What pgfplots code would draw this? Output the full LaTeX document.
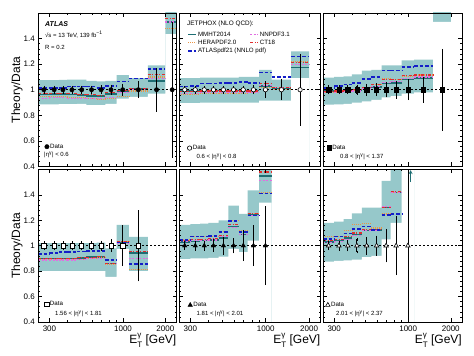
\documentclass[border=0pt]{standalone}
\usepackage{pgfplots}
\pgfplotsset{compat=1.18}
\usepackage{pgfplotstable}
\usepackage{fontspec}
\setmainfont{Liberation Sans}

\definecolor{bandc}{RGB}{150,200,202}
\definecolor{mmhtc}{RGB}{30,110,115}
\definecolor{herac}{RGB}{235,150,70}
\definecolor{nnpdfc}{RGB}{225,110,225}
\definecolor{ct18c}{RGB}{225,45,45}
\definecolor{atlasc}{RGB}{20,30,200}

\pgfplotsset{
  every axis/.append style={xmode=log, xmin=250, xmax=2400, ymin=0.4, ymax=1.6,
    scale only axis, anchor=south west, tick align=inside, axis on top,
    xtick={300,1000,2000}, xticklabels={300,1000,2000},
    minor xtick={400,500,600,700,800,900},
    ytick={0.4,0.6,0.8,1,1.2,1.4}, minor y tick num=4,
    major tick length=4pt, minor tick length=2pt,
    tick label style={font=\fontsize{8}{8}\selectfont},
    /pgf/number format/assume math mode=true,
    axis line style={line width=0.6pt},
    every tick/.style={black, line width=0.5pt},
    legend style={draw=none, fill=none, inner sep=0pt, anchor=west,
      font=\fontsize{6.2}{7}\selectfont, nodes={inner sep=1pt}},
  },
  lnMMHT/.style={mmhtc, line width=1.6pt, solid},
  lnHERA/.style={herac, line width=1.1pt, dash pattern=on 0.8pt off 1.2pt},
  lnNNPDF/.style={nnpdfc, line width=1.1pt, dash pattern=on 2pt off 1.5pt},
  lnCT/.style={ct18c, line width=1.1pt, dash pattern=on 3pt off 1.5pt on 1pt off 1.5pt},
  lnATLAS/.style={atlasc, line width=1.6pt, dash pattern=on 3.5pt off 2pt},
  mkA/.style={mark=*, mark size=2.2pt, mark options={solid, fill=black, draw=black}},
  mkB/.style={mark=*, mark size=2.2pt, mark options={solid, fill=white, draw=black, line width=0.6pt}},
  mkC/.style={mark=square*, mark size=2.1pt, mark options={solid, fill=black, draw=black}},
  mkD/.style={mark=square*, mark size=2.1pt, mark options={solid, fill=white, draw=black, line width=0.6pt}},
  mkE/.style={mark=triangle*, mark size=2.6pt, mark options={solid, fill=black, draw=black}},
  mkF/.style={mark=triangle*, mark size=2.6pt, mark options={solid, fill=white, draw=black, line width=0.6pt}},
}

\newcommand\drawpanel[3]{%
  \addplot[fill=bandc, draw=none, const plot mark left, forget plot] table[x=x,y=bhi]{#1} \closedcycle;
  \addplot[fill=white, draw=none, const plot mark left, forget plot] table[x=x,y=blo]{#1} \closedcycle;
  \addplot[lnMMHT, jump mark left, forget plot] table[x=x,y=mmht]{#1};
  \addplot[lnHERA, jump mark left, forget plot] table[x=x,y=hera]{#1};
  \addplot[lnNNPDF, jump mark left, forget plot] table[x=x,y=nnpdf]{#1};
  \addplot[lnCT, jump mark left, forget plot] table[x=x,y=ct18]{#1};
  \addplot[lnATLAS, jump mark left, forget plot] table[x=x,y=atlas]{#1};
  \addplot[black, line width=0.5pt, dash pattern=on 2pt off 2pt, forget plot] coordinates {(250,1) (2400,1)};
  \addplot[only marks, black, #3, forget plot,
    error bars/.cd, y dir=both, y explicit,
    error bar style={black, line width=0.7pt, solid},
    error mark options={black, line width=0.6pt, mark size=1.3pt}]
    table[x=x,y=y,y error=e]{#2};
  \addlegendimage{only marks, black, #3}\addlegendentry{Data}
}

% ---------- panel 1: |eta|<0.6
\pgfplotstableread{
x blo bhi mmht hera nnpdf ct18 atlas
250 0.885 1.075 0.963 0.945 0.935 0.968 1.012
300 0.885 1.075 0.965 0.945 0.937 0.970 1.012
350 0.888 1.078 0.965 0.945 0.937 0.970 1.015
400 0.888 1.080 0.962 0.940 0.935 0.968 1.025
470 0.890 1.080 0.958 0.938 0.933 0.965 1.025
550 0.880 1.070 0.950 0.930 0.930 0.960 1.025
650 0.880 1.065 0.950 0.925 0.930 0.955 1.015
750 0.890 1.070 0.965 0.935 0.940 0.975 1.030
900 0.930 1.115 0.990 0.945 0.975 0.995 1.065
1100 0.945 1.090 1.005 0.990 1.000 1.010 1.088
1500 0.970 1.190 1.070 1.100 1.090 1.120 1.160
2000 1.435 1.750 1.530 1.480 1.530 1.560 1.620
2500 1.435 1.750 1.530 1.480 1.530 1.560 1.620
}\thA
\pgfplotstableread{
x y e
273.9 1 0.02
324.0 1 0.02
374.2 1 0.02
433.6 1 0.02
508.4 1 0.02
597.7 1 0.022
698.2 1 0.025
821.6 1 0.028
995.0 1 0.035
1284.5 1 0.055
1732.1 1 0.16
2236.1 1 0.52
}\dA
% ---------- panel 2: 0.6<|eta|<0.8
\pgfplotstableread{
x blo bhi mmht hera nnpdf ct18 atlas
250 0.895 1.090 0.990 0.965 0.970 0.985 1.025
300 0.895 1.090 0.990 0.965 0.970 0.985 1.027
350 0.900 1.095 0.995 0.970 0.975 0.990 1.050
400 0.900 1.095 0.995 0.970 0.975 0.990 1.050
470 0.900 1.095 0.995 0.970 0.975 0.990 1.052
550 0.900 1.095 0.995 0.970 0.975 0.990 1.052
650 0.900 1.100 0.995 0.970 0.975 0.990 1.060
750 0.900 1.100 0.995 0.975 0.980 0.990 1.055
900 0.915 1.155 1.030 1.020 1.030 1.048 1.135
1100 0.915 1.080 1.010 1.000 1.015 1.015 1.100
1500 1.090 1.300 1.175 1.220 1.195 1.210 1.260
2000 1.090 1.300 1.175 1.220 1.195 1.210 1.260
}\thB
\pgfplotstableread{
x y e
273.9 1 0.02
324.0 1 0.02
374.2 1 0.02
433.6 1 0.02
508.4 1 0.02
597.7 1 0.02
698.2 1 0.022
821.6 1 0.025
995.0 1 0.055
1284.5 1 0.07
1732.1 1 0.27
}\dB
% ---------- panel 3: 0.8<|eta|<1.37
\pgfplotstableread{
x blo bhi mmht hera nnpdf ct18 atlas
250 0.883 1.095 0.990 0.975 0.975 0.985 1.015
300 0.885 1.100 0.990 0.980 0.978 0.990 1.027
350 0.890 1.105 0.995 0.985 0.985 0.995 1.040
400 0.900 1.120 1.000 0.995 0.990 1.000 1.055
470 0.910 1.150 1.010 1.020 1.010 1.020 1.085
550 0.920 1.155 1.020 1.040 1.025 1.040 1.100
650 0.940 1.190 1.050 1.085 1.060 1.080 1.150
750 0.950 1.190 1.055 1.080 1.065 1.080 1.150
900 0.970 1.230 1.080 1.105 1.090 1.110 1.180
1100 0.980 1.235 1.090 1.115 1.100 1.115 1.185
1500 1.530 1.800 1.650 1.650 1.650 1.650 1.700
2000 1.530 1.800 1.650 1.650 1.650 1.650 1.700
}\thC
\pgfplotstableread{
x y e
273.9 1 0.025
324.0 1 0.025
374.2 1 0.025
433.6 1 0.03
508.4 1 0.035
597.7 1 0.04
698.2 1 0.05
821.6 1 0.06
995.0 1 0.07
1284.5 1 0.09
1732.1 1 0.31
}\dC
% ---------- panel 4: 1.56<|eta|<1.81
\pgfplotstableread{
x blo bhi mmht hera nnpdf ct18 atlas
250 0.800 1.020 0.900 0.895 0.888 0.900 0.935
300 0.800 1.020 0.900 0.895 0.888 0.900 0.945
350 0.800 1.020 0.900 0.893 0.888 0.900 0.950
400 0.800 1.020 0.900 0.893 0.888 0.900 0.952
470 0.800 1.020 0.905 0.895 0.890 0.905 0.955
550 0.800 1.020 0.910 0.900 0.900 0.910 0.960
650 0.800 1.025 0.910 0.905 0.900 0.912 0.960
750 0.755 0.980 0.860 0.855 0.860 0.860 0.890
900 0.975 1.165 1.025 1.030 1.020 1.030 1.025
1100 0.800 1.070 0.945 0.815 0.900 0.955 0.855
1500 0.800 1.070 0.945 0.815 0.900 0.955 0.855
}\thD
\pgfplotstableread{
x y e
273.9 1 0.025
324.0 1 0.025
374.2 1 0.025
433.6 1 0.025
508.4 1 0.025
597.7 1 0.025
698.2 1 0.03
821.6 1 0.04
995.0 1 0.15
1284.5 1 0.27
}\dD
% ---------- panel 5: 1.81<|eta|<2.01
\pgfplotstableread{
x blo bhi mmht hera nnpdf ct18 atlas
250 0.895 1.165 1.030 1.045 1.030 1.040 1.047
300 0.900 1.170 1.035 1.070 1.040 1.050 1.074
350 0.900 1.175 1.040 1.070 1.040 1.050 1.074
400 0.905 1.180 1.045 1.075 1.045 1.055 1.078
470 0.915 1.200 1.060 1.110 1.075 1.080 1.110
550 0.975 1.315 1.150 1.200 1.145 1.170 1.197
650 0.950 1.250 1.090 1.120 1.090 1.110 1.110
750 1.040 1.435 1.245 1.255 1.235 1.255 1.237
900 1.340 1.750 1.550 1.420 1.510 1.580 1.410
1100 1.340 1.750 1.550 1.420 1.510 1.580 1.410
}\thE
\pgfplotstableread{
x y e
273.9 1 0.025
324.0 1 0.03
374.2 1 0.03
433.6 1 0.04
508.4 1 0.06
597.7 1 0.05
698.2 1 0.11
821.6 1 0.15
995.0 1 0.30
}\dE
% ---------- panel 6: 2.01<|eta|<2.37
\pgfplotstableread{
x blo bhi mmht hera nnpdf ct18 atlas
250 0.876 1.180 1.030 1.070 1.026 1.040 1.053
300 0.880 1.190 1.040 1.075 1.030 1.050 1.074
350 0.885 1.210 1.060 1.120 1.050 1.070 1.097
400 0.890 1.255 1.090 1.170 1.080 1.100 1.130
470 0.910 1.300 1.120 1.175 1.120 1.130 1.150
550 0.920 1.300 1.125 1.140 1.120 1.130 1.124
650 1.050 1.510 1.300 1.250 1.310 1.300 1.240
750 1.180 1.750 1.420 1.420 1.420 1.430 1.250
900 1.900 2.400 2.100 2.100 2.100 2.100 2.100
1100 1.900 2.400 2.100 2.100 2.100 2.100 2.100
}\thF
\pgfplotstableread{
x y e
273.9 1 0.025
324.0 1 0.03
374.2 1 0.035
433.6 1 0.05
508.4 1 0.06
597.7 1 0.07
698.2 1 0.12
821.6 1 0.22
995.0 1 0.65
}\dF

\begin{document}
\begin{tikzpicture}
\useasboundingbox (0pt,0pt) rectangle (474pt,356pt);

% top row
\begin{axis}[at={(38.3pt,189.5pt)}, width=138.2pt, height=153.5pt,
  xticklabels={}, legend style={at={(0.045,0.129)}},
  legend image code/.code={\draw[#1] plot coordinates {(2.2pt,0pt)};}]
\drawpanel{\thA}{\dA}{mkA}
\end{axis}
\begin{axis}[at={(179pt,189.5pt)}, width=141.5pt, height=153.5pt,
  xticklabels={}, yticklabels={}, legend style={at={(0.058,0.12)}},
  legend image code/.code={\draw[#1] plot coordinates {(2.2pt,0pt)};}]
\drawpanel{\thB}{\dB}{mkB}
\end{axis}
\begin{axis}[at={(323pt,189.5pt)}, width=139pt, height=153.5pt,
  xticklabels={}, yticklabels={}, legend style={at={(0.028,0.122)}},
  legend image code/.code={\draw[#1] plot coordinates {(2.2pt,0pt)};}]
\drawpanel{\thC}{\dC}{mkC}
\end{axis}
% bottom row
\begin{axis}[at={(38.3pt,34pt)}, width=138.2pt, height=152.5pt,
  legend style={at={(0.045,0.116)}},
  legend image code/.code={\draw[#1] plot coordinates {(2.2pt,0pt)};}]
\drawpanel{\thD}{\dD}{mkD}
\end{axis}
\begin{axis}[at={(179pt,34pt)}, width=141.5pt, height=152.5pt,
  yticklabels={}, legend style={at={(0.062,0.111)}},
  legend image code/.code={\draw[#1] plot coordinates {(2.2pt,0pt)};}]
\drawpanel{\thE}{\dE}{mkE}
\end{axis}
\begin{axis}[at={(323pt,34pt)}, width=139pt, height=152.5pt,
  yticklabels={}, legend style={at={(0.017,0.111)}},
  legend image code/.code={\draw[#1] plot coordinates {(2.2pt,0pt)};}]
\drawpanel{\thF}{\dF}{mkF}
\addplot[mmhtc, line width=0.8pt, -stealth, forget plot] coordinates {(1040,1.50) (1040,1.595)};
\end{axis}

% JETPHOX legend overlay on panel 2
\begin{axis}[at={(179pt,189.5pt)}, width=141.5pt, height=153.5pt,
  hide axis, legend columns=2, legend cell align=left,
  legend style={at={(0.057,0.805)}, anchor=west, nodes={inner sep=1.2pt},
    /tikz/every even column/.append style={column sep=12pt}},
  legend image code/.code={\draw[#1] (0pt,0pt) -- (8pt,0pt);}]
\addlegendimage{lnMMHT}\addlegendentry{MMHT2014}
\addlegendimage{lnNNPDF}\addlegendentry{NNPDF3.1}
\addlegendimage{lnHERA}\addlegendentry{HERAPDF2.0}
\addlegendimage{lnCT}\addlegendentry{CT18}
\addlegendimage{lnATLAS}\addlegendentry{\makebox[0pt][l]{ATLASpdf21 (NNLO pdf)}}
\end{axis}

% texts
\node[anchor=west, inner sep=0pt, font=\fontsize{7}{7}\selectfont\bfseries\itshape] at (45pt,332pt) {ATLAS};
\node[anchor=west, inner sep=0pt, font=\fontsize{6}{6}\selectfont] at (45pt,321.5pt) {√s = 13 TeV, 139 fb\textsuperscript{−1}};
\node[anchor=west, inner sep=0pt, font=\fontsize{6}{6}\selectfont] at (45pt,308.5pt) {R = 0.2};
\node[anchor=west, inner sep=0pt, font=\fontsize{6.4}{6.4}\selectfont] at (187pt,331.7pt) {JETPHOX (NLO QCD):};

\node[anchor=west, inner sep=0pt, font=\fontsize{6}{6}\selectfont] at (44pt,201pt) {|η\textsuperscript{γ}| < 0.6};
\node[anchor=west, inner sep=0pt, font=\fontsize{6}{6}\selectfont] at (196.5pt,199pt) {0.6 < |η\textsuperscript{γ}| < 0.8};
\node[anchor=west, inner sep=0pt, font=\fontsize{6}{6}\selectfont] at (340pt,199.3pt) {0.8 < |η\textsuperscript{γ}| < 1.37};
\node[anchor=west, inner sep=0pt, font=\fontsize{6}{6}\selectfont] at (55pt,42pt) {1.56 < |η\textsuperscript{γ}| < 1.81};
\node[anchor=west, inner sep=0pt, font=\fontsize{6}{6}\selectfont] at (196.5pt,42pt) {1.81 < |η\textsuperscript{γ}| < 2.01};
\node[anchor=west, inner sep=0pt, font=\fontsize{6}{6}\selectfont] at (336pt,42pt) {2.01 < |η\textsuperscript{γ}| < 2.37};

\node[rotate=90, font=\fontsize{12}{12}\selectfont] at (17pt,266pt) {Theory/Data};
\node[rotate=90, font=\fontsize{12}{12}\selectfont] at (17pt,110.25pt) {Theory/Data};

\foreach \xr in {176.5,320.5,462} {
  \node[anchor=base east, inner sep=0pt, font=\fontsize{12}{12}\selectfont] at (\xr pt,12pt)
   {E\makebox[0pt][l]{\raisebox{0.5em}{\fontsize{8}{8}\selectfont γ}}\raisebox{-0.3em}{\fontsize{8}{8}\selectfont T} [GeV]};
}
\end{tikzpicture}
\end{document}
